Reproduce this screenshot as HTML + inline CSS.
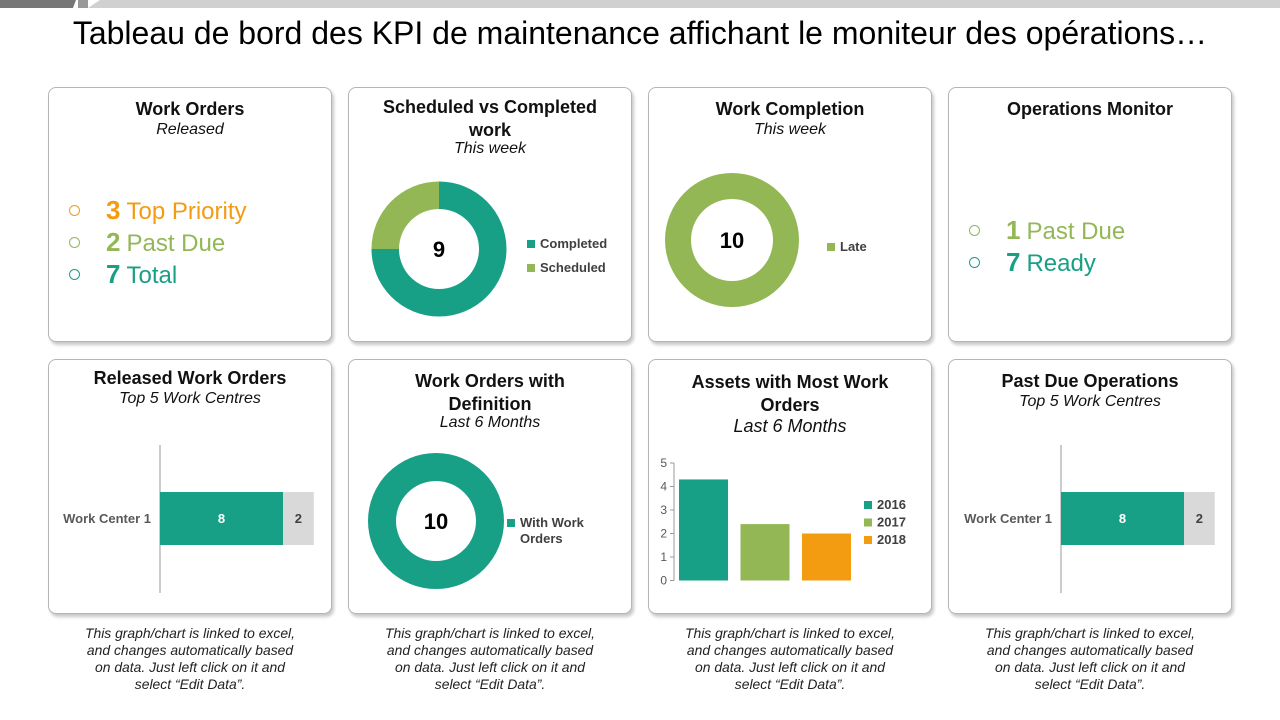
<!DOCTYPE html>
<html><head><meta charset="utf-8">
<style>
body{margin:0;width:1280px;height:720px;background:#fff;font-family:"Liberation Sans",Arial,sans-serif;position:relative;overflow:hidden}
.abs{position:absolute}
.card{position:absolute;width:284px;height:255px;border:1px solid #b5b5b5;border-radius:8px;box-shadow:2px 3px 3px rgba(0,0,0,0.22);background:#fff;box-sizing:border-box}
.t{position:absolute;left:0;width:100%;text-align:center;font-weight:bold;font-size:18px;color:#111}
.s{position:absolute;left:0;width:100%;text-align:center;font-style:italic;font-size:16px;color:#111}
.note{position:absolute;width:284px;text-align:center;font-style:italic;font-size:13.9px;line-height:17px;color:#222}
.kpi{position:absolute;font-size:24px;white-space:nowrap}
.kpi b{font-size:26px;margin-right:6px}
.kpi .c{display:inline-block;width:9px;height:9px;border:1px solid;border-radius:50%;margin-right:26px;vertical-align:middle;position:relative;top:-2px}
svg{position:absolute;left:0;top:0}
</style></head><body>
<div class="abs" style="left:0;top:0;width:76px;height:8px;background:#777;clip-path:polygon(0 0,100% 0,96% 100%,0 100%)"></div>
<div class="abs" style="left:78px;top:0;width:10px;height:8px;background:#999"></div>
<div class="abs" style="left:88px;top:0;width:1192px;height:8px;background:#d0d0d0;clip-path:polygon(1% 0,100% 0,100% 100%,0 100%)"></div>
<div class="abs" style="left:0;top:15px;width:1280px;text-align:center;font-size:32px;color:#000">Tableau de bord des KPI de maintenance affichant le moniteur des opérations…</div>

<div class="card" style="left:48px;top:87px">
<div class="t" style="top:11px">Work Orders</div>
<div class="s" style="top:33px">Released</div>
<div class="kpi" style="left:20px;top:107px;color:#f39c12"><span class="c"></span><b>3</b>Top Priority</div>
<div class="kpi" style="left:20px;top:139px;color:#93b755"><span class="c"></span><b>2</b>Past Due</div>
<div class="kpi" style="left:20px;top:171px;color:#18a086"><span class="c"></span><b>7</b>Total</div>
</div>

<div class="card" style="left:348px;top:87px">
<div class="t" style="top:8px;line-height:23px">Scheduled vs Completed<br>work</div>
<div class="s" style="top:52px">This week</div>
</div>

<div class="card" style="left:648px;top:87px">
<div class="t" style="top:11px">Work Completion</div>
<div class="s" style="top:33px">This week</div>
</div>

<div class="card" style="left:948px;top:87px">
<div class="t" style="top:11px">Operations Monitor</div>
<div class="kpi" style="left:20px;top:127px;color:#93b755"><span class="c"></span><b>1</b>Past Due</div>
<div class="kpi" style="left:20px;top:159px;color:#18a086"><span class="c"></span><b>7</b>Ready</div>
</div>

<div class="card" style="left:48px;top:359px">
<div class="t" style="top:8px">Released Work Orders</div>
<div class="s" style="top:30px">Top 5 Work Centres</div>
</div>
<div class="card" style="left:348px;top:359px">
<div class="t" style="top:10px;line-height:23px">Work Orders with<br>Definition</div>
<div class="s" style="top:54px">Last 6 Months</div>
</div>
<div class="card" style="left:648px;top:359px">
<div class="t" style="top:11px;line-height:23px">Assets with Most Work<br>Orders</div>
<div class="s" style="top:56px;font-size:18px">Last 6 Months</div>
</div>
<div class="card" style="left:948px;top:359px">
<div class="t" style="top:11px">Past Due Operations</div>
<div class="s" style="top:33px">Top 5 Work Centres</div>
</div>

<div class="note" style="left:48px;top:625px">This graph/chart is linked to excel,<br>and changes automatically based<br>on data. Just left click on it and<br>select “Edit Data”.</div>
<div class="note" style="left:348px;top:625px">This graph/chart is linked to excel,<br>and changes automatically based<br>on data. Just left click on it and<br>select “Edit Data”.</div>
<div class="note" style="left:648px;top:625px">This graph/chart is linked to excel,<br>and changes automatically based<br>on data. Just left click on it and<br>select “Edit Data”.</div>
<div class="note" style="left:948px;top:625px">This graph/chart is linked to excel,<br>and changes automatically based<br>on data. Just left click on it and<br>select “Edit Data”.</div>

<svg id="chart" width="1280" height="720"></svg>
<script>
const NS='http://www.w3.org/2000/svg';
const svg=document.getElementById('chart');
const TEAL='#18a086',GREEN='#93b755',ORANGE='#f39c12',GRAY='#d9d9d9';
// Donut data
const donut1Labels=['Completed','Scheduled'];
const donut1Values=[3,1];
const donut1Center='9';
const donut2Labels=['Late'];
const donut2Values=[10];
const donut2Center='10';
const donut3Labels=['With Work Orders'];
const donut3Values=[10];
const donut3Center='10';
// Stacked bar data
const wcCategories=['Work Center 1'];
const wcDone=[8];
const wcRemain=[2];
const pdCategories=['Work Center 1'];
const pdDone=[8];
const pdRemain=[2];
// Column chart data
const assetYears=['2016','2017','2018'];
const assetValues=[4.3,2.4,2.0];
const assetTicks=[0,1,2,3,4,5];

function el(tag,attrs,name,text){const e=document.createElementNS(NS,tag);for(const k in attrs)e.setAttribute(k,attrs[k]);


if(text!==undefined)e.textContent=text;svg.appendChild(e);return e;}

function donut(cx,cy,R,r,vals,cols,center,name){
  const tot=vals.reduce((a,b)=>a+b,0);let a0=-Math.PI/2;
  vals.forEach((v,i)=>{
    const frac=v/tot;
    if(frac>=0.9999){
      el('path',{d:`M${cx-R},${cy}a${R},${R} 0 1,0 ${2*R},0a${R},${R} 0 1,0 ${-2*R},0M${cx-r},${cy}a${r},${r} 0 1,1 ${2*r},0a${r},${r} 0 1,1 ${-2*r},0Z`,fill:cols[i],'fill-rule':'evenodd'},name+'-slice-'+i);
    }else{
      const a1=a0+frac*2*Math.PI,lg=frac>0.5?1:0;
      const p=(ang,rad)=>[cx+rad*Math.cos(ang),cy+rad*Math.sin(ang)];
      const [x1,y1]=p(a0,R),[x2,y2]=p(a1,R),[x3,y3]=p(a1,r),[x4,y4]=p(a0,r);
      el('path',{d:`M${x1},${y1}A${R},${R} 0 ${lg},1 ${x2},${y2}L${x3},${y3}A${r},${r} 0 ${lg},0 ${x4},${y4}Z`,fill:cols[i]},name+'-slice-'+i);
      a0=a1;
    }
  });
  el('text',{x:cx,y:cy+8,'text-anchor':'middle','font-size':22,'font-weight':'bold',fill:'#000'},name+'-center-value',center);
}
function legend(x,y,labels,cols,name,gap,fs){
  labels.forEach((l,i)=>{
    el('rect',{x:x,y:y+i*gap-8,width:8,height:8,fill:cols[i]},name+'-legend-swatch');
    const parts=l.split('|');
    parts.forEach((p,j)=>el('text',{x:x+13,y:y+i*gap+j*16,'font-size':fs,'font-weight':'bold',fill:'#404040'},name+'-legend-label',p));
  });
}
donut(439,249,67.5,40,donut1Values,[TEAL,GREEN],donut1Center,'donut-scheduled');
legend(527,248,donut1Labels,[TEAL,GREEN],'donut-scheduled',24,13);
donut(732,240,67,41,donut2Values,[GREEN],donut2Center,'donut-completion');
legend(827,251,donut2Labels,[GREEN],'donut-completion',24,13);
donut(436,521,68,40,donut3Values,[TEAL],donut3Center,'donut-definition');
legend(507,527,['With Work|Orders'],[TEAL],'donut-definition',24,13);

function hbar(ax,cats,done,rem,name){
  const unit=123/8, y0=492, h=53;
  el('line',{x1:ax,y1:445,x2:ax,y2:593,stroke:'#999','stroke-width':1},name+'-axis');
  cats.forEach((c,i)=>{
    const w1=done[i]*unit,w2=rem[i]*unit;
    el('text',{x:ax-9,y:y0+31,'text-anchor':'end','font-size':13,'font-weight':'bold',fill:'#595959'},name+'-category-label',c);
    el('rect',{x:ax,y:y0,width:w1,height:h,fill:TEAL},name+'-bar-done');
    el('rect',{x:ax+w1,y:y0,width:w2,height:h,fill:GRAY},name+'-bar-remaining');
    el('text',{x:ax+w1/2,y:y0+31,'text-anchor':'middle','font-size':13,'font-weight':'bold',fill:'#fff'},name+'-value-done',done[i]);
    el('text',{x:ax+w1+w2/2,y:y0+31,'text-anchor':'middle','font-size':13,'font-weight':'bold',fill:'#404040'},name+'-value-remaining',rem[i]);
  });
}
hbar(160,wcCategories,wcDone,wcRemain,'released-wc');
hbar(1061,pdCategories,pdDone,pdRemain,'pastdue-wc');

// column chart
const yBase=580.5, yUnit=23.5, axX=674;
const ys=v=>yBase-v*yUnit;
el('line',{x1:axX,y1:ys(5),x2:axX,y2:yBase,stroke:'#999'},'assets-y-axis');
assetTicks.forEach(t=>{
  el('line',{x1:axX-4,y1:ys(t),x2:axX,y2:ys(t),stroke:'#999'},'assets-y-tick');
  el('text',{x:axX-7,y:ys(t)+4,'text-anchor':'end','font-size':12,fill:'#595959'},'assets-y-tick-label',t);
});
const cols=[TEAL,GREEN,ORANGE];
assetValues.forEach((v,i)=>{
  const x=679+i*61.5;
  el('rect',{x:x,y:ys(v),width:49,height:v*yUnit,fill:cols[i]},'assets-bar-'+assetYears[i]);
});
legend(864,509,assetYears,cols,'assets',17.5,13);
</script>
</body></html>
